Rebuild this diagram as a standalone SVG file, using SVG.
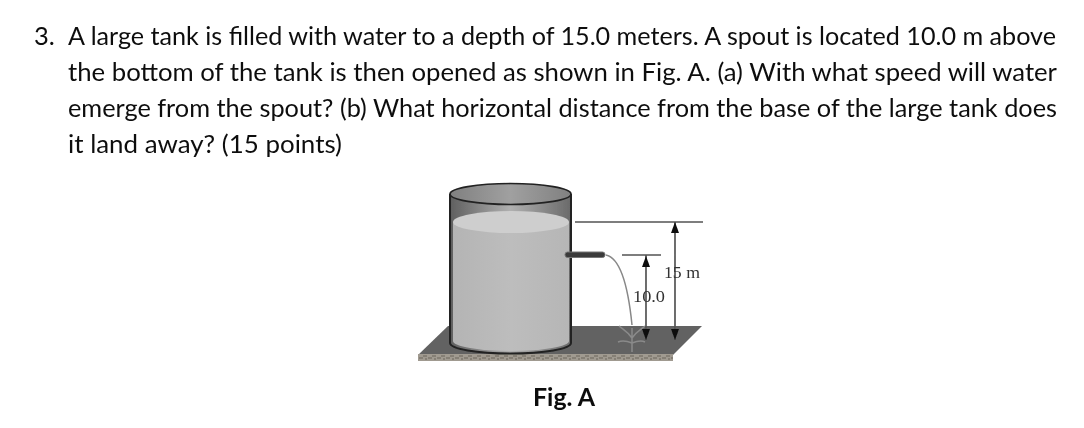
<svg xmlns="http://www.w3.org/2000/svg" width="1084" height="428" viewBox="0 0 1084 428">
<style>
.t{font-family:"Lato","Open Sans",sans-serif;font-size:25.5px;fill:#111}
.b{font-family:"Lato","Open Sans",sans-serif;font-size:25px;font-weight:700;fill:#111}
.s{font-family:"Liberation Serif",serif;font-size:16.5px;fill:#333}
.d{stroke:#555;stroke-width:1.7;fill:none}
.a{fill:#111}
</style>
<defs>
<linearGradient id="wall" x1="0" y1="0" x2="1" y2="0"><stop offset="0" stop-color="#5f5f5f"/><stop offset=".5" stop-color="#b0b0b0"/><stop offset="1" stop-color="#6a6a6a"/></linearGradient>
<linearGradient id="water" x1="0" y1="0" x2="1" y2="0"><stop offset="0" stop-color="#b4b4b4"/><stop offset=".5" stop-color="#bdbdbd"/><stop offset="1" stop-color="#b6b6b6"/></linearGradient>
<linearGradient id="lid" x1="0" y1="0" x2="1" y2="0"><stop offset="0" stop-color="#808080"/><stop offset=".5" stop-color="#a0a0a0"/><stop offset="1" stop-color="#808080"/></linearGradient>
<pattern id="soil" width="9" height="6" patternUnits="userSpaceOnUse"><rect width="9" height="6" fill="#a09a90"/><path d="M0 2h4M5 4h4M2 5h2" stroke="#6b6459" stroke-width="1.2"/></pattern>
<filter id="soft" x="-5%" y="-5%" width="110%" height="110%"><feGaussianBlur stdDeviation="0.55"/></filter>
<filter id="softT" x="-2%" y="-20%" width="104%" height="140%"><feGaussianBlur stdDeviation="0.3"/></filter>
</defs>
<g id="question" filter="url(#softT)">
<text class="t" x="34" y="45">3.</text>
<text class="t" x="68" y="45" textLength="988" lengthAdjust="spacingAndGlyphs">A large tank is filled with water to a depth of 15.0 meters. A spout is located 10.0 m above</text>
<text class="t" x="68" y="81" textLength="989" lengthAdjust="spacingAndGlyphs">the bottom of the tank is then opened as shown in Fig. A. (a) With what speed will water</text>
<text class="t" x="68" y="117" textLength="989" lengthAdjust="spacingAndGlyphs">emerge from the spout? (b) What horizontal distance from the base of the large tank does</text>
<text class="t" x="68" y="153" textLength="274" lengthAdjust="spacingAndGlyphs">it land away? (15 points)</text>
</g>
<g filter="url(#soft)">
<g id="ground">
<polygon points="448,326 702,326 673,355 418,355" fill="#626262"/>
<rect x="418" y="354" width="255" height="7" fill="url(#soil)"/>
</g>
<g id="tank">
<path d="M450 194V343A60.500 10.500 0 0 0 571 343V194Z" fill="url(#wall)"/>
<path d="M453 222V341A58 10 0 0 0 569 341V222Z" fill="url(#water)"/>
<ellipse cx="511" cy="222" rx="58" ry="11" fill="#cecece"/>
<ellipse cx="510.500" cy="194" rx="60.500" ry="10.500" fill="url(#lid)" stroke="#222" stroke-width="1.700"/>
<path d="M450 194V343A60.500 10.500 0 0 0 571 343V194" fill="none" stroke="#222" stroke-width="2"/>
</g>
<g id="spout">
<rect x="565" y="252" width="40" height="5.500" rx="2.500" fill="#3a3a3a" stroke="#777" stroke-width="1"/>
</g>
<g id="stream">
<path d="M606 255C620 258 628 285 632 325" fill="none" stroke="#888" stroke-width="1.500"/>
<path d="M632 352V328M632 338C628 332 624 330 619 326M632 338C636 332 640 330 645 326M632 343C627 341 623 340 618 342M632 343C637 341 641 340 645 342" fill="none" stroke="#8a8a8a" stroke-width="1.500"/>
</g>
</g>
<g id="connectors" filter="url(#soft)">
<path class="d" d="M575 222H703M622 255H661M675 222V340M646 255V340"/>
<polygon class="a" points="675,222 671,233 679,233"/>
<polygon class="a" points="675,340 671,329 679,329"/>
<polygon class="a" points="646,256 642,267 650,267"/>
<polygon class="a" points="646,340 642,329 650,329"/>
</g>
<g id="labels" filter="url(#softT)">
<text class="s" x="664" y="278" textLength="36" lengthAdjust="spacingAndGlyphs">15 m</text>
<text class="s" x="633" y="302" textLength="32" lengthAdjust="spacingAndGlyphs">10.0</text>
<text class="b" x="533" y="406" textLength="62" lengthAdjust="spacingAndGlyphs">Fig. A</text>
</g>
</svg>
